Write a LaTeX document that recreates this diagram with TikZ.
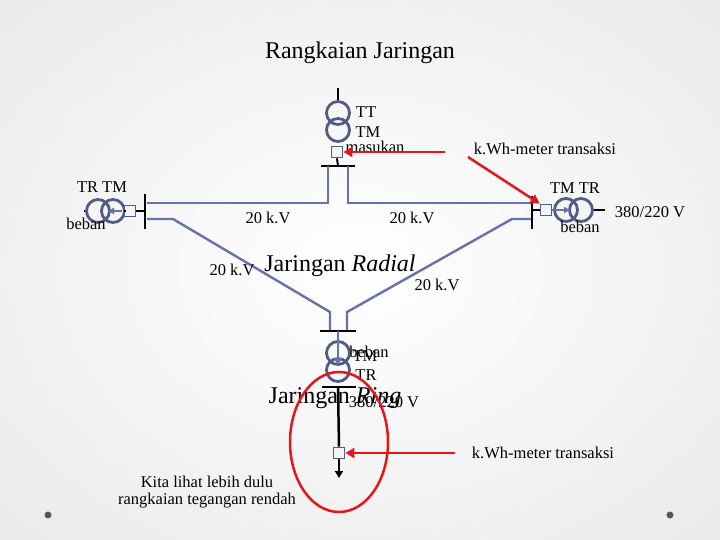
\documentclass[tikz,border=0pt]{standalone}
\usepackage{fontspec}
\setmainfont{Liberation Serif}
\usetikzlibrary{arrows.meta}
\definecolor{ln}{HTML}{6473A8}
\definecolor{rd}{HTML}{E3161B}
\begin{document}
\begin{tikzpicture}[x=1pt,y=-1pt,
  bl/.style={ln,line width=2.4pt},
  bar/.style={black,line width=2.6pt},
  trc/.style={draw=ln!80!black,line width=2.8pt,circle,minimum size=23pt,inner sep=0},
  sq/.style={draw=ln!80!black,fill=white!92!ln,line width=1.8pt,minimum size=11pt,inner sep=0},
  rarr/.style={rd,line width=2.5pt,-{Triangle[length=9pt,width=10pt]}},
  t/.style={font=\fontsize{16.5}{17}\selectfont,inner sep=0},
  big/.style={font=\fontsize{24}{26}\selectfont,inner sep=0}]
\useasboundingbox (0,0) rectangle (720,540);
\begin{scope}
\clip (0,0) rectangle (720,540);
\shade[inner color=white,outer color=gray!18] (-200,-150) rectangle (920,690);
\end{scope}
\fill[gray!70!black] (48,515) circle (3.5) (670,515) circle (3.5);
\node[big] (title) at (360,53) {Rangkaian Jaringan};
% top
\coordinate (ttop) at (338,88);
\node[trc] (t1) at (338,113) {};
\node[trc] (t2) at (338,130) {};
\node[sq] (s1) at (337,152) {};
\draw[line width=2.5pt] (ttop) -- (t1.north);
\draw[line width=2pt] (s1.south) -- (338,166);
\draw[bar] (321,166) -- (355,166);
\node[t] (tt) at (366,112) {TT};
\node[t] (tm) at (368,132) {TM};
\node[t] (mas) at (375,147) {masukan};
\node[t] (kw1) at (545,149) {k.Wh-meter transaksi};
\coordinate (a1) at (445,152);
\draw[rarr] (a1) -- (s1.east);
% lines
\draw[bl] (328,166) -- (328,203) -- (147,203);
\draw[bl] (348,166) -- (348,203) -- (532,203);
\draw[bl] (147,219) -- (173,219) -- (330,312) -- (330,331);
\draw[bl] (532,219) -- (512,219) -- (347,312) -- (347,331);
% left
\draw[bar] (145,194) -- (145,229);
\node[trc] (l1) at (98,211) {};
\node[trc] (l2) at (113,211) {};
\node[sq] (s2) at (130,211) {};
\draw[line width=2.5pt] (84,211) -- (l1.west);
\draw[line width=2.5pt] (l2.east) -- (s2.west);
\draw[line width=2pt] (s2.east) -- (145,211);
\draw[ln,line width=2pt,-{Triangle[length=6pt,width=6pt]}] (122,211) -- (108,211);
\node[t] (trtm) at (102,187) {TR TM};
\node[t] (beb1) at (86,224) {beban};
% right
\draw[bar] (532,196) -- (532,229);
\node[sq] (s3) at (546,210) {};
\node[trc] (r1) at (566,210) {};
\node[trc] (r2) at (581,210) {};
\draw[line width=2pt] (532,210) -- (s3.west);
\draw[line width=2.5pt] (r2.east) -- (605,210);
\draw[ln,line width=2pt,-{Triangle[length=6pt,width=6pt]}] (552,210) -- (570,210);
\node[t] (tmtr) at (575,188) {TM TR};
\node[t] (beb2) at (580,227) {beban};
\node[t] (v1) at (650,212) {380/220 V};
\coordinate (a2) at (468,157);
\draw[rarr] (a2) -- (s3.north west);
% labels
\node[t] (k1) at (268,218) {20 k.V};
\node[t] (k2) at (412,218) {20 k.V};
\node[t] (k3) at (232,270) {20 k.V};
\node[t] (k4) at (437,285) {20 k.V};
\node[big] (rad) at (340,266) {Jaringan \textit{Radial}};
% bottom
\draw[bar] (320,331) -- (356,331);
\node[trc] (b1) at (338,353) {};
\node[trc] (b2) at (338,370) {};
\draw[ln,line width=2.5pt,-{Triangle[length=7pt,width=8pt]}] (338,331) -- (338,365);
\draw[bar] (322,387) -- (356,387);
\node[sq] (s4) at (339,453) {};
\draw[line width=2.5pt] (338,387) -- (s4.north);
\coordinate (bend) at (339,478);
\draw[line width=2.5pt,-{Triangle[length=7pt,width=8pt]}] (s4.south) -- (bend);
\node[t] (beb3) at (369,352) {beban};
\node[t] (tm3) at (365,356) {TM};
\node[t] (tr3) at (366,375) {TR};
\node[big] (ring) at (335,398) {Jaringan \textit{Ring}};
\node[t] (v2) at (384,402) {380/220 V};
\draw[rd,line width=2.5pt] (339,442) ellipse [x radius=49,y radius=70];
\node[t] (kw2) at (543,453) {k.Wh-meter transaksi};
\coordinate (a3) at (455,453);
\draw[rarr] (a3) -- (s4.east);
\node[t,align=center] (kita) at (207,492) {Kita lihat lebih dulu\\rangkaian tegangan rendah};
\end{tikzpicture}
\end{document}
